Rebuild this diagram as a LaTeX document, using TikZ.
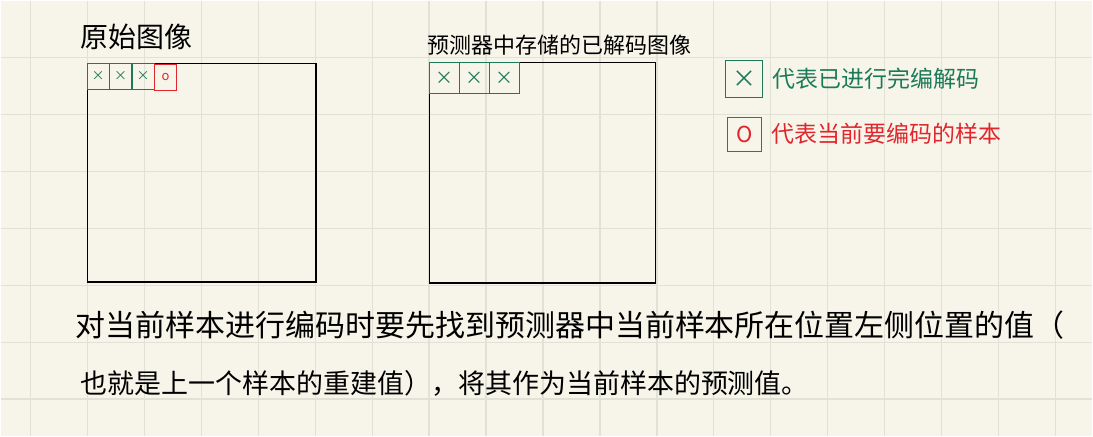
\documentclass[tikz,border=0pt]{standalone}
\usepackage{fontspec}
\newfontfamily\cjk{Noto Sans CJK SC}
\usetikzlibrary{matrix, positioning}
\definecolor{paper}{HTML}{F7F5EA}
\definecolor{gridline}{HTML}{E2E1D5}
\definecolor{inkgreen}{HTML}{1C7A58}
\definecolor{inkred}{HTML}{E0262C}
\newcommand{\cjksize}[1]{\cjk\fontsize{#1}{#1}\selectfont}

\begin{document}
\begin{tikzpicture}
[x=1pt, y=-1pt,
frame/.style={rectangle, draw=black, line width=1.3pt, inner sep=0pt, anchor=north west},
cell/.style={rectangle, draw=inkgreen, text=inkgreen, line width=0.9pt, inner sep=0pt},
cur/.style={rectangle, draw=inkred, text=inkred, line width=0.9pt, inner sep=0pt},
row/.style={matrix of nodes, row sep=-\pgflinewidth, column sep=-\pgflinewidth, anchor=north west, inner sep=0pt},
title/.style={anchor=west, inner sep=0pt},
ampersand replacement=\&]

% paper and grid
\fill[paper] (0,0) rectangle (1093,436);
\foreach \gx in {30,87,...,1083} \draw[gridline, line width=1.4pt] (\gx,0) -- (\gx,436);
\foreach \gy in {57,114,...,430} \draw[gridline, line width=1.4pt] (0,\gy) -- (1093,\gy);
\useasboundingbox (0,0) rectangle (1093,436);

% titles
\node (origtitle) [title, font=\cjksize{28}] at (80,36) {原始图像};
\node (predtitle) [title, font=\cjksize{22}] at (427,44) {预测器中存储的已解码图像};

% the two images
\node (orig) [frame, minimum width=229pt, minimum height=219pt] at (86,62) {};
\node (pred) [frame, minimum width=226pt, minimum height=221pt] at (429,61) {};

\matrix (origcells) [row, nodes={cell, minimum width=22pt, minimum height=26pt, font=\cjksize{13}}] at (orig.north west)
{
× \& × \& × \& |[cur]| o \\
};
\matrix (predcells) [row, nodes={cell, minimum width=29.5pt, minimum height=31pt, font=\cjksize{18}}] at (pred.north west)
{
× \& × \& × \\
};

% legend
\node (legdone) [cell, minimum size=37pt, font=\cjksize{24}] at (744.5,78.5) {×};
\node (legcur) [cur, minimum size=34pt, font=\cjksize{22}] at (745,133.5) {O};
\node (legdonetext) [title, right=9pt of legdone, text=inkgreen, font=\cjksize{23}] {代表已进行完编解码};
\node (legcurtext) [title, right=9pt of legcur, text=inkred, font=\cjksize{23}] {代表当前要编码的样本};

% explanation
\node (noteone) [title, font=\cjksize{30}] at (75,325) {对当前样本进行编码时要先找到预测器中当前样本所在位置左侧位置的值（};
\node (notetwo) [title, font=\cjksize{27}] at (80,383) {也就是上一个样本的重建值），将其作为当前样本的预测值。};
\end{tikzpicture}
\end{document}
